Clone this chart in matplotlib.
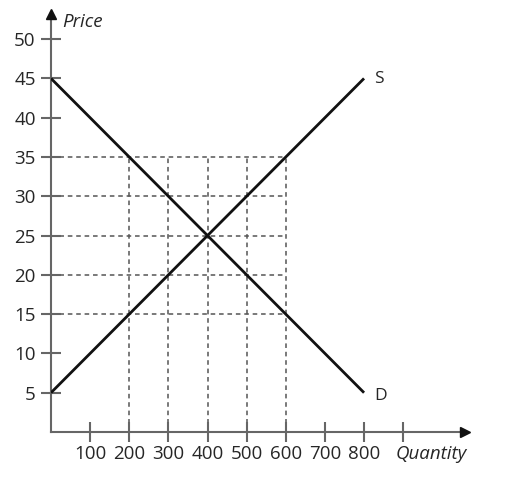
import matplotlib
matplotlib.use("Agg")
import matplotlib.pyplot as plt

plt.rcParams['font.family'] = ['Open Sans', 'DejaVu Sans']

quantity = [0, 800]
supply_price = [5, 45]
demand_price = [45, 5]
x_ticks = [100, 200, 300, 400, 500, 600, 700, 800, 900]
x_tick_labels = ['100', '200', '300', '400', '500', '600', '700', '800', '']
y_ticks = [5, 10, 15, 20, 25, 30, 35, 40, 45, 50]
grid_x = [200, 300, 400, 500, 600]
grid_y = [15, 20, 25, 30, 35]

XMAX, YMAX = 1058, 53.2
fig = plt.figure(figsize=(5.1, 4.9), dpi=100)
ax = fig.add_axes([51/510, 58/490, 414/510, 418/490])
ax.set_xlim(0, XMAX)
ax.set_ylim(0, YMAX)

axis_col = '#666666'
text_col = '#262626'
for s in ['top', 'right']:
    ax.spines[s].set_visible(False)
for s in ['left', 'bottom']:
    ax.spines[s].set_color(axis_col)
    ax.spines[s].set_linewidth(1.5)

# dashed guide lines
gx_max = max(grid_x)
gy_max = max(grid_y)
for gy in grid_y:
    ax.plot([0, gx_max], [gy, gy], ls=(0, (3, 2.5)), color='#555555', lw=1.1, zorder=1)
for gx in grid_x:
    ax.plot([gx, gx], [0, gy_max], ls=(0, (3, 2.5)), color='#555555', lw=1.1, zorder=1)

ax.plot(quantity, supply_price, color='#111111', lw=2, zorder=3, solid_capstyle='butt')
ax.plot(quantity, demand_price, color='#111111', lw=2, zorder=3, solid_capstyle='butt')
ax.text(825, 44.9, 'S', fontsize=12.5, color=text_col, ha='left', va='center')
ax.text(825, 4.6, 'D', fontsize=12.5, color=text_col, ha='left', va='center')

ax.set_xticks(x_ticks)
ax.set_xticklabels(x_tick_labels)
ax.set_yticks(y_ticks)
ax.tick_params(axis='both', direction='inout', length=14, width=1.5, color=axis_col,
               labelsize=13.5, labelcolor=text_col)
ax.tick_params(axis='x', pad=2)
ax.tick_params(axis='y', pad=4)

# arrows
ax.plot([XMAX], [0], marker='>', color='#111111', markersize=7, clip_on=False, zorder=5)
ax.plot([0], [YMAX], marker='^', color='#111111', markersize=7, clip_on=False, zorder=5)

ax.text(28, 52.2, 'Price', fontsize=13.5, style='italic', color=text_col, ha='left', va='center')
ax.text(880, -2.8, 'Quantity', fontsize=13.5, style='italic', color=text_col, ha='left', va='center')

fig.savefig('out.png', dpi=100)
